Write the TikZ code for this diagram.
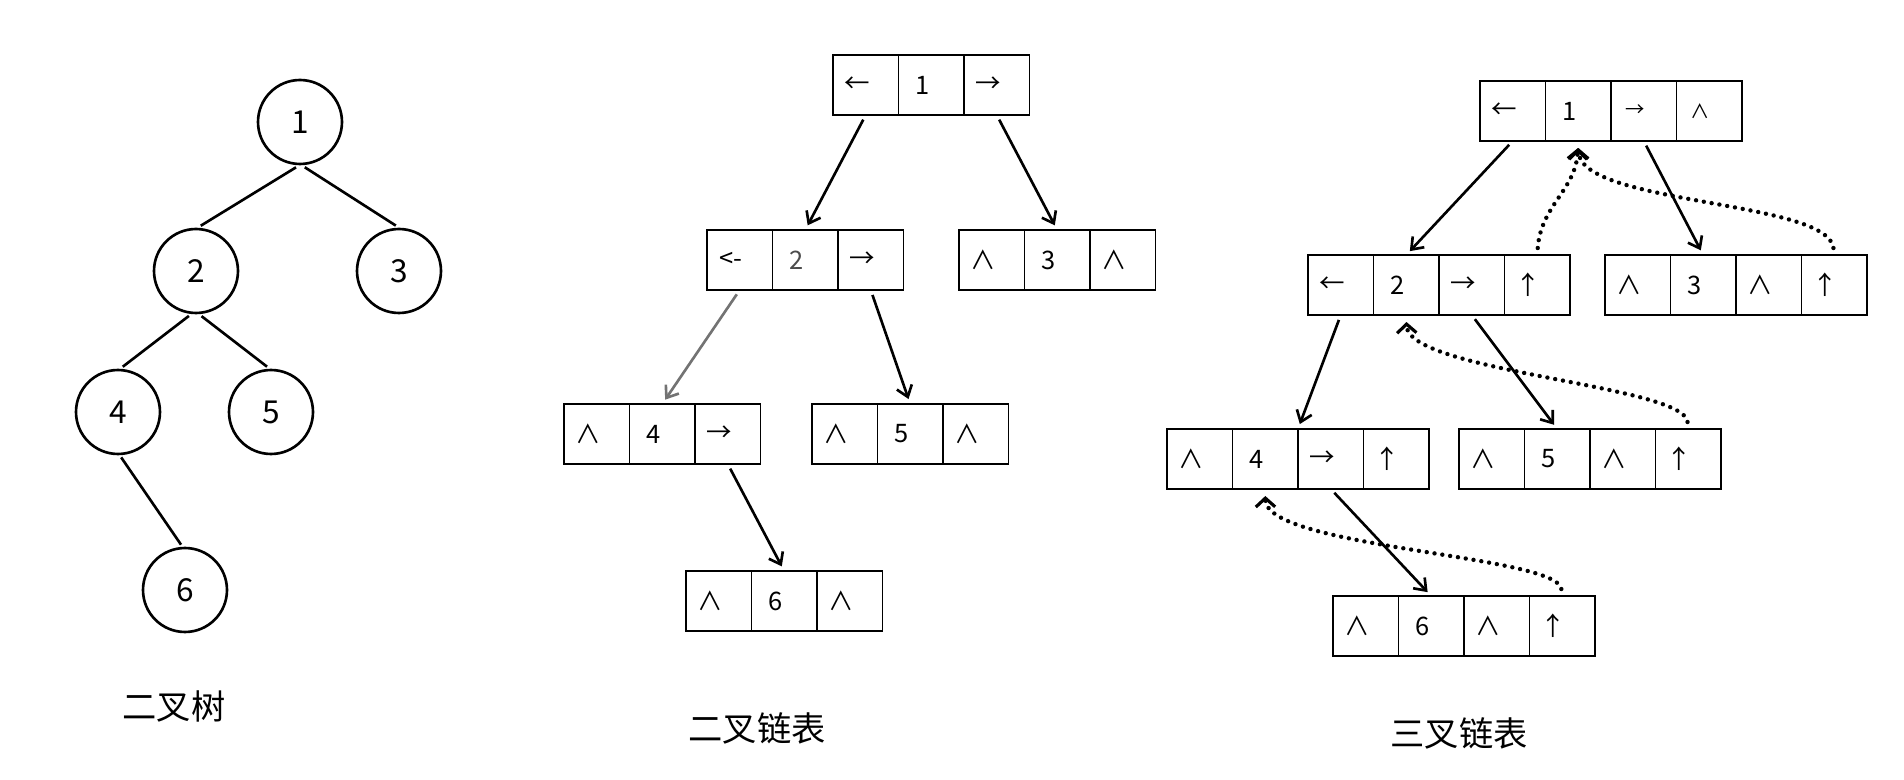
\documentclass[tikz,border=0pt]{standalone}
\usepackage{fontspec}
\setmainfont{Noto Sans CJK SC}
\usetikzlibrary{arrows.meta, positioning}

\tikzset{
  vertex/.style={circle, draw, line width=1.5pt, minimum size=1.68cm, inner sep=0pt, outer sep=2pt, font=\fontsize{18}{20}\selectfont},
  edge/.style={line width=1.5pt},
  cell/.style={draw, line width=1pt, minimum width=1.31cm, minimum height=1.2cm, inner sep=0pt, outer sep=0pt, font=\fontsize{14.5}{16}\selectfont, execute at begin node={\hspace*{-0.35cm}}},
  small cell/.style={cell, font=\fontsize{11}{13}\selectfont},
  child/.style={line width=1.5pt, -{Straight Barb[length=6pt,width=9pt]}, shorten <=3pt, shorten >=3pt},
  parent/.style={line width=2.5pt, line cap=round, dash pattern=on 0pt off 4.5pt, -{Straight Barb[length=5pt,width=11pt,line width=1.8pt]}, shorten <=4pt, shorten >=4pt},
  title/.style={font=\fontsize{19.5}{22}\selectfont}
}

\begin{document}
\begin{tikzpicture}[x=0.02cm, y=-0.02cm]
\useasboundingbox (0,0) rectangle (1904,780);

% binary tree
\node[vertex] (n1) at (300,122) {1};
\node[vertex] (n2) at (196,271) {2};
\node[vertex] (n3) at (399,271) {3};
\node[vertex] (n4) at (118,412) {4};
\node[vertex] (n5) at (271,412) {5};
\node[vertex] (n6) at (185,590) {6};
\draw[edge] (n1.265) -- (n2.84);
\draw[edge] (n1.276) -- (n3.94);
\draw[edge] (n2.261) -- (n4.84);
\draw[edge] (n2.277) -- (n5.95);
\draw[edge] (n4.274) -- (n6.95);
\node[title] (lab1) at (174,706) {二叉树};

% binary linked list
\node[cell, anchor=north west] (b1l) at (833,55) {←};
\node[cell, right=0pt of b1l] (b1d) {1};
\node[cell, right=0pt of b1d] (b1r) {→};

\node[cell, anchor=north west] (b2l) at (707,230) {<-};
\node[cell, right=0pt of b2l, text=black!70] (b2d) {2};
\node[cell, right=0pt of b2d] (b2r) {→};

\node[cell, anchor=north west] (b3l) at (959,230) {∧};
\node[cell, right=0pt of b3l] (b3d) {3};
\node[cell, right=0pt of b3d] (b3r) {∧};

\node[cell, anchor=north west] (b4l) at (564,404) {∧};
\node[cell, right=0pt of b4l] (b4d) {4};
\node[cell, right=0pt of b4d] (b4r) {→};

\node[cell, anchor=north west] (b5l) at (812,404) {∧};
\node[cell, right=0pt of b5l] (b5d) {5};
\node[cell, right=0pt of b5d] (b5r) {∧};

\node[cell, anchor=north west] (b6l) at (686,571) {∧};
\node[cell, right=0pt of b6l] (b6d) {6};
\node[cell, right=0pt of b6d] (b6r) {∧};

\draw[child] (b1l.south) -- (b2d.north);
\draw[child] (b1r.south) -- (b3d.north);
\draw[child, black!55] (b2l.south) -- (b4d.north);
\draw[child] (b2r.south) -- (b5d.north);
\draw[child] (b4r.south) -- (b6d.north);
\node[title] (lab2) at (757,728) {二叉链表};

% ternary linked list
\node[cell, anchor=north west] (t1l) at (1480,81) {←};
\node[cell, right=0pt of t1l] (t1d) {1};
\node[small cell, right=0pt of t1d] (t1r) {→};
\node[small cell, right=0pt of t1r] (t1p) {∧};

\node[cell, anchor=north west] (t2l) at (1308,255) {←};
\node[cell, right=0pt of t2l] (t2d) {2};
\node[cell, right=0pt of t2d] (t2r) {→};
\node[cell, right=0pt of t2r] (t2p) {↑};

\node[cell, anchor=north west] (t3l) at (1605,255) {∧};
\node[cell, right=0pt of t3l] (t3d) {3};
\node[cell, right=0pt of t3d] (t3r) {∧};
\node[cell, right=0pt of t3r] (t3p) {↑};

\node[cell, anchor=north west] (t4l) at (1167,429) {∧};
\node[cell, right=0pt of t4l] (t4d) {4};
\node[cell, right=0pt of t4d] (t4r) {→};
\node[cell, right=0pt of t4r] (t4p) {↑};

\node[cell, anchor=north west] (t5l) at (1459,429) {∧};
\node[cell, right=0pt of t5l] (t5d) {5};
\node[cell, right=0pt of t5d] (t5r) {∧};
\node[cell, right=0pt of t5r] (t5p) {↑};

\node[cell, anchor=north west] (t6l) at (1333,596) {∧};
\node[cell, right=0pt of t6l] (t6d) {6};
\node[cell, right=0pt of t6d] (t6r) {∧};
\node[cell, right=0pt of t6r] (t6p) {↑};

\draw[child] (t1l.south) -- (t2d.north);
\draw[child] (t1r.south) -- (t3d.north);
\draw[child] (t2l.south) -- (t4d.north east);
\draw[child] (t2r.south) -- (t5d.north);
\draw[child] (t4r.south) -- (t6d.north);

% parent pointers
\draw[parent] (t2p.north) .. controls (1541,205) and (1576,190) .. (t1d.south);
\draw[parent] (t3p.north) .. controls (1828,200) and (1580,205) .. (t1d.south);
\draw[parent] (t5p.north) .. controls (1684,385) and (1408,372) .. (t2d.south);
\draw[parent] (t6p.north) .. controls (1557,555) and (1266,548) .. (t4d.south);
\node[title] (lab3) at (1459,733) {三叉链表};
\end{tikzpicture}
\end{document}
